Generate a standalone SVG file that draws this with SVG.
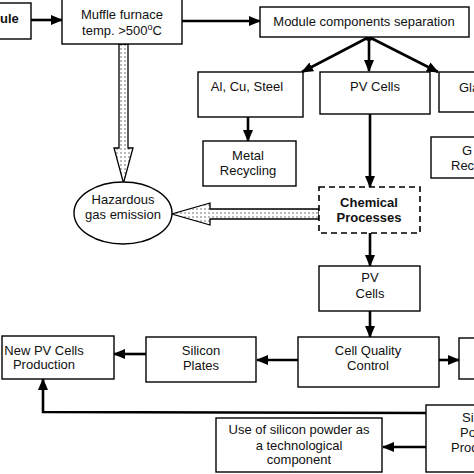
<svg xmlns="http://www.w3.org/2000/svg" width="474" height="474" viewBox="0 0 474 474">
<style>
.box{fill:#fff;stroke:#000;stroke-width:1.4}
.dash{fill:#fff;stroke:#000;stroke-width:1.6;stroke-dasharray:6,4}
.t{font-family:"Liberation Sans",Arial,sans-serif;font-size:13px;fill:#111;text-anchor:middle}
.b{font-weight:bold}
.s{text-anchor:start}
.c{fill:none;stroke:#000;stroke-width:2.6}
.blk{fill:url(#dots);stroke:#000;stroke-width:1.3}
</style>
<defs>
<marker id="ah" markerUnits="userSpaceOnUse" markerWidth="12" markerHeight="12" viewBox="0 0 12 12" refX="11" refY="6" orient="auto">
<path d="M0,1 L12,6 L0,11 Z" fill="#000"/>
</marker>
<pattern id="dots" width="4" height="4" patternUnits="userSpaceOnUse">
<rect width="4" height="4" fill="#fff"/>
<circle cx="1" cy="1" r="0.7" fill="#444"/>
</pattern>
</defs>
<rect width="474" height="474" fill="#fff"/>

<g id="connectors">
<line class="c" x1="31" y1="20" x2="62" y2="20" marker-end="url(#ah)"/>
<line class="c" x1="182" y1="21" x2="260" y2="21" marker-end="url(#ah)"/>
<line class="c" x1="369" y1="37" x2="302" y2="72" marker-end="url(#ah)"/>
<line class="c" x1="369" y1="37" x2="369" y2="71" marker-end="url(#ah)"/>
<line class="c" x1="369" y1="37" x2="438" y2="72" marker-end="url(#ah)"/>
<circle cx="369" cy="37" r="4" fill="#000"/>
<line class="c" x1="248" y1="117" x2="248" y2="141" marker-end="url(#ah)"/>
<line class="c" x1="370" y1="114" x2="370" y2="187" marker-end="url(#ah)"/>
<line class="c" x1="370" y1="233" x2="370" y2="266" marker-end="url(#ah)"/>
<line class="c" x1="370" y1="311" x2="370" y2="337" marker-end="url(#ah)"/>
<line class="c" x1="298" y1="360" x2="257" y2="360" marker-end="url(#ah)"/>
<line class="c" x1="146" y1="354" x2="114" y2="354" marker-end="url(#ah)"/>
<line class="c" x1="439" y1="360" x2="459" y2="360" marker-end="url(#ah)"/>
<polyline class="c" points="426,413 43,412 43,379" marker-end="url(#ah)"/>
<line class="c" x1="426" y1="447" x2="383" y2="447" marker-end="url(#ah)"/>
<path class="blk" d="M119,44 L119,148 L114,148 L123.5,183 L133,148 L128,148 L128,44 Z"/>
<path class="blk" d="M319,209 L210,209 L210,203 L172,214 L210,225 L210,219 L319,219 Z"/>
</g>

<g id="n-module">
<rect class="box" x="-10" y="3" width="41" height="36"/>
<text class="t b s" x="0" y="23" font-size="14">ule</text>
</g>
<g id="n-muffle">
<rect class="box" x="62" y="-2" width="120" height="46"/>
<text class="t" x="122" y="19">Muffle furnace</text>
<text class="t" x="122" y="35">temp. &gt;500<tspan font-size="9" dy="-5">o</tspan><tspan dy="5">C</tspan></text>
</g>
<g id="n-separation">
<rect class="box" x="260" y="7" width="209" height="30"/>
<text class="t" x="364" y="26">Module components separation</text>
</g>
<g id="n-metals">
<rect class="box" x="198" y="72" width="105" height="45"/>
<text class="t" x="247" y="91">Al, Cu, Steel</text>
</g>
<g id="n-pvcells1">
<rect class="box" x="320" y="72" width="110" height="42"/>
<text class="t" x="375" y="91">PV Cells</text>
</g>
<g id="n-glass">
<rect class="box" x="439" y="72" width="50" height="40"/>
<text class="t s" x="459" y="92">Gla</text>
</g>
<g id="n-metalrec">
<rect class="box" x="203" y="141" width="93" height="45"/>
<text class="t" x="248" y="160">Metal</text>
<text class="t" x="248" y="175">Recycling</text>
</g>
<g id="n-glassrec">
<rect class="box" x="431" y="137" width="60" height="41"/>
<text class="t s" x="462" y="155">G</text>
<text class="t s" x="451" y="170">Rec</text>
</g>
<g id="n-hazard">
<ellipse cx="123" cy="213" rx="49" ry="31" fill="#fff" stroke="#000" stroke-width="1.4"/>
<text class="t" x="123" y="204">Hazardous</text>
<text class="t" x="123" y="219">gas emission</text>
</g>
<g id="n-chemical">
<rect class="dash" x="319" y="187" width="101" height="46"/>
<text class="t b" x="369" y="207">Chemical</text>
<text class="t b" x="369" y="222">Processes</text>
</g>
<g id="n-pvcells2">
<rect class="box" x="319" y="266" width="101" height="45"/>
<text class="t" x="370" y="282">PV</text>
<text class="t" x="370" y="298">Cells</text>
</g>
<g id="n-quality">
<rect class="box" x="298" y="337" width="141" height="50"/>
<text class="t" x="368" y="355">Cell Quality</text>
<text class="t" x="368" y="370">Control</text>
</g>
<g id="n-plates">
<rect class="box" x="146" y="337" width="110" height="45"/>
<text class="t" x="201" y="355">Silicon</text>
<text class="t" x="201" y="370">Plates</text>
</g>
<g id="n-newpv">
<rect class="box" x="2" y="336" width="112" height="43"/>
<text class="t" x="44" y="355">New PV Cells</text>
<text class="t" x="44" y="369">Production</text>
</g>
<g id="n-right">
<rect class="box" x="459" y="338" width="30" height="41"/>
</g>
<g id="n-powder">
<rect class="box" x="426" y="405" width="60" height="67"/>
<text class="t s" x="462" y="422">Si</text>
<text class="t s" x="460" y="437">Po</text>
<text class="t s" x="451" y="452">Prod</text>
</g>
<g id="n-use">
<rect class="box" x="216" y="418" width="166" height="54"/>
<text class="t" x="299" y="434">Use of silicon powder as</text>
<text class="t" x="299" y="450">a technological</text>
<text class="t" x="299" y="464">component</text>
</g>
</svg>
